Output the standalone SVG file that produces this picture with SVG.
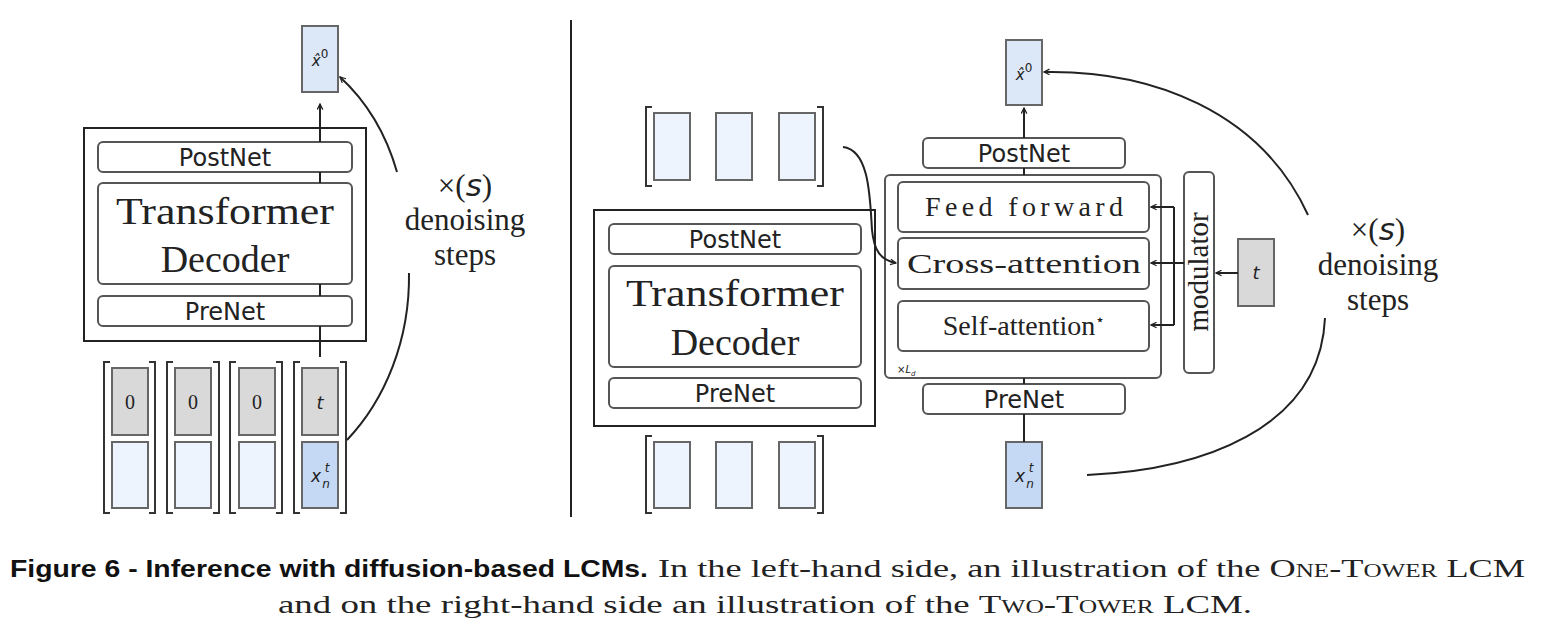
<svg xmlns="http://www.w3.org/2000/svg" width="1542" height="634" viewBox="0 0 1542 634">
<style>
.rb{fill:#fff;stroke:#555;stroke-width:2}
.hat{fill:#dce8f8;stroke:#666;stroke-width:2}
.lt{fill:#eef4fd;stroke:#666;stroke-width:2}
.xn{fill:#c6d9f4;stroke:#666;stroke-width:2}
.gr{fill:#d9d9d9;stroke:#666;stroke-width:2}
.outer{fill:none;stroke:#222;stroke-width:2}
.br{fill:none;stroke:#333;stroke-width:2}
.ln{fill:none;stroke:#222;stroke-width:2}
.sans{font-family:"DejaVu Sans","Liberation Sans",sans-serif;fill:#222}
.serif{font-family:"Liberation Serif","DejaVu Serif",serif;fill:#222}
.it{font-family:"DejaVu Sans",sans-serif;font-style:italic;fill:#222}
.bold{font-family:"Liberation Sans",Arial,sans-serif;font-weight:bold;fill:#111}
</style>
<defs>
<marker id="ah" viewBox="0 0 10 10" refX="9" refY="5" markerWidth="7" markerHeight="7" orient="auto-start-reverse" markerUnits="userSpaceOnUse">
<path d="M1,1 L9,5 L1,9" fill="none" stroke="#222" stroke-width="1.8"/>
</marker>
</defs>
<rect width="1542" height="634" fill="#fff"/>

<!-- LEFT: one tower -->
<g id="l-out"><rect class="hat" x="302" y="26" width="36" height="66"/><text class="it" x="320" y="66" font-size="15" text-anchor="middle">x̂<tspan font-style="normal" font-size="12" dy="-8">0</tspan></text></g>
<g id="l-tower">
<rect class="outer" x="84" y="128" width="282" height="213"/>
<rect class="rb" x="98" y="142" width="254" height="30" rx="5"/><text class="sans" x="225" y="166" font-size="24" text-anchor="middle">PostNet</text>
<rect class="rb" x="98" y="183" width="254" height="101" rx="5"/><text class="serif" x="225" y="224" font-size="38" text-anchor="middle" textLength="218" lengthAdjust="spacingAndGlyphs">Transformer</text><text class="serif" x="225" y="272" font-size="38" text-anchor="middle">Decoder</text>
<rect class="rb" x="98" y="296" width="254" height="30" rx="5"/><text class="sans" x="225" y="320" font-size="24" text-anchor="middle">PreNet</text>
</g>
<g id="l-inputs">
<path class="br" d="M110,362 H104 V513 H110 M149,362 H155 V513 H149"/>
<rect class="gr" x="112" y="368" width="36" height="67"/><text class="serif" x="130" y="409" font-size="20" text-anchor="middle">0</text><rect class="lt" x="112" y="442" width="36" height="66"/>
<path class="br" d="M173,362 H167 V513 H173 M213,362 H219 V513 H213"/>
<rect class="gr" x="175" y="368" width="36" height="67"/><text class="serif" x="193" y="409" font-size="20" text-anchor="middle">0</text><rect class="lt" x="175" y="442" width="36" height="66"/>
<path class="br" d="M236,362 H230 V513 H236 M276,362 H282 V513 H276"/>
<rect class="gr" x="239" y="368" width="36" height="67"/><text class="serif" x="257" y="409" font-size="20" text-anchor="middle">0</text><rect class="lt" x="239" y="442" width="36" height="66"/>
<path class="br" d="M300,362 H294 V513 H300 M340,362 H346 V513 H340"/>
<rect class="gr" x="302" y="368" width="36" height="67"/><text class="it" x="320" y="409" font-size="18" text-anchor="middle">t</text>
<rect class="xn" x="302" y="442" width="36" height="66"/><text class="it" x="316" y="482" font-size="17" text-anchor="middle">x</text><text class="it" x="327" y="472" font-size="12" text-anchor="middle">t</text><text class="it" x="326" y="488" font-size="12" text-anchor="middle">n</text>
</g>
<g id="l-label" class="serif" font-size="31" text-anchor="middle">
<text x="465" y="196">×(<tspan class="it" font-family="DejaVu Sans">s</tspan>)</text>
<text x="465" y="230">denoising</text>
<text x="465" y="265">steps</text>
</g>

<line x1="571" y1="20" x2="571" y2="517" stroke="#222" stroke-width="2"/>

<!-- RIGHT: two tower -->
<g id="r-out"><rect class="hat" x="1006" y="40" width="36" height="65"/><text class="it" x="1024" y="80" font-size="15" text-anchor="middle">x̂<tspan font-style="normal" font-size="12" dy="-8">0</tspan></text></g>
<g id="r-ctx-top">
<path class="br" d="M652,107 H646 V186 H652 M817,107 H823 V186 H817"/>
<rect class="lt" x="654" y="113" width="36" height="67"/><rect class="lt" x="716" y="113" width="36" height="67"/><rect class="lt" x="779" y="113" width="36" height="67"/>
</g>
<g id="r-enc">
<rect class="outer" x="594" y="210" width="281" height="216" fill="#fff"/>
<rect class="rb" x="609" y="224" width="252" height="30" rx="5"/><text class="sans" x="735" y="248" font-size="24" text-anchor="middle">PostNet</text>
<rect class="rb" x="609" y="266" width="252" height="101" rx="5"/><text class="serif" x="735" y="306" font-size="38" text-anchor="middle" textLength="218" lengthAdjust="spacingAndGlyphs">Transformer</text><text class="serif" x="735" y="355" font-size="38" text-anchor="middle">Decoder</text>
<rect class="rb" x="609" y="378" width="252" height="30" rx="5"/><text class="sans" x="735" y="402" font-size="24" text-anchor="middle">PreNet</text>
</g>
<g id="r-ctx-bot">
<path class="br" d="M652,436 H646 V513 H652 M817,436 H823 V513 H817"/>
<rect class="lt" x="654" y="442" width="36" height="66"/><rect class="lt" x="716" y="442" width="36" height="66"/><rect class="lt" x="779" y="442" width="36" height="66"/>
</g>
<g id="r-postnet"><rect class="rb" x="923" y="138" width="202" height="30" rx="5"/><text class="sans" x="1024" y="162" font-size="24" text-anchor="middle">PostNet</text></g>
<g id="r-loop">
<rect class="rb" x="885" y="175" width="276" height="203" rx="5"/>
<text class="it" x="897" y="373" font-size="10"><tspan font-style="normal">×</tspan>L<tspan font-size="7" dy="3">d</tspan></text>
</g>
<g id="r-ff"><rect class="rb" x="898" y="182" width="251" height="50" rx="5"/><text class="serif" x="1024" y="216" font-size="28" text-anchor="middle" textLength="198" lengthAdjust="spacing">Feed  forward</text></g>
<g id="r-cross"><rect class="rb" x="898" y="238" width="251" height="51" rx="5"/><text class="serif" x="1024" y="273" font-size="28" text-anchor="middle" textLength="234" lengthAdjust="spacingAndGlyphs">Cross-attention</text></g>
<g id="r-self"><rect class="rb" x="898" y="301" width="251" height="50" rx="5"/><text class="serif" x="1024" y="335" font-size="28" text-anchor="middle">Self-attention<tspan font-size="16" dy="-10">⋆</tspan></text></g>
<g id="r-mod"><rect class="rb" x="1184" y="172" width="30" height="201" rx="5"/><text class="serif" transform="translate(1208,272) rotate(-90)" font-size="29" text-anchor="middle">modulator</text></g>
<g id="r-t"><rect class="gr" x="1238" y="239" width="36" height="67"/><text class="it" x="1256" y="279" font-size="18" text-anchor="middle">t</text></g>
<g id="r-prenet"><rect class="rb" x="923" y="384" width="202" height="30" rx="5"/><text class="sans" x="1024" y="408" font-size="24" text-anchor="middle">PreNet</text></g>
<g id="r-xn"><rect class="xn" x="1006" y="442" width="36" height="66"/><text class="it" x="1020" y="482" font-size="17" text-anchor="middle">x</text><text class="it" x="1031" y="472" font-size="12" text-anchor="middle">t</text><text class="it" x="1030" y="488" font-size="12" text-anchor="middle">n</text></g>
<g id="r-label" class="serif" font-size="31" text-anchor="middle">
<text x="1378" y="240">×(<tspan class="it" font-family="DejaVu Sans">s</tspan>)</text>
<text x="1378" y="275">denoising</text>
<text x="1378" y="310">steps</text>
</g>

<g id="connectors">
<path class="ln" d="M320,357 V326 M320,296 V284 M320,183 V172"/>
<line class="ln" x1="320" y1="142" x2="320" y2="104" marker-end="url(#ah)"/>
<path class="ln" d="M347,440 C385,400 410,340 409,273"/>
<path class="ln" d="M397,172 C385,130 365,100 340,77" marker-end="url(#ah)"/>
<path class="ln" d="M1024,442 V414 M1024,384 V378 M1024,175 V168"/>
<line class="ln" x1="1024" y1="138" x2="1024" y2="108" marker-end="url(#ah)"/>
<path class="ln" d="M843,147 C870,150 870,200 872,230 C874,250 880,260 896,263" marker-end="url(#ah)"/>
<line class="ln" x1="1238" y1="273" x2="1216" y2="273" marker-end="url(#ah)"/>
<path class="ln" d="M1184,263 H1174 M1174,207 V325"/>
<line class="ln" x1="1174" y1="207" x2="1151" y2="207" marker-end="url(#ah)"/>
<line class="ln" x1="1174" y1="263" x2="1151" y2="263" marker-end="url(#ah)"/>
<line class="ln" x1="1174" y1="325" x2="1151" y2="325" marker-end="url(#ah)"/>
<path class="ln" d="M1087,475 C1200,470 1320,430 1325,318"/>
<path class="ln" d="M1308,215 C1260,110 1150,70 1044,72" marker-end="url(#ah)"/>
</g>

<g id="caption">
<text class="bold" x="10" y="577" font-size="24" textLength="638" lengthAdjust="spacingAndGlyphs">Figure 6  -  Inference with diffusion-based LCMs.</text>
<text class="serif" x="658" y="577" font-size="26" textLength="867" lengthAdjust="spacingAndGlyphs">In the left-hand side, an illustration of the <tspan font-variant="small-caps">One-Tower</tspan> LCM</text>
<text class="serif" x="278" y="613" font-size="26" textLength="974" lengthAdjust="spacingAndGlyphs">and on the right-hand side an illustration of the <tspan font-variant="small-caps">Two-Tower</tspan> LCM.</text>
</g>
</svg>
